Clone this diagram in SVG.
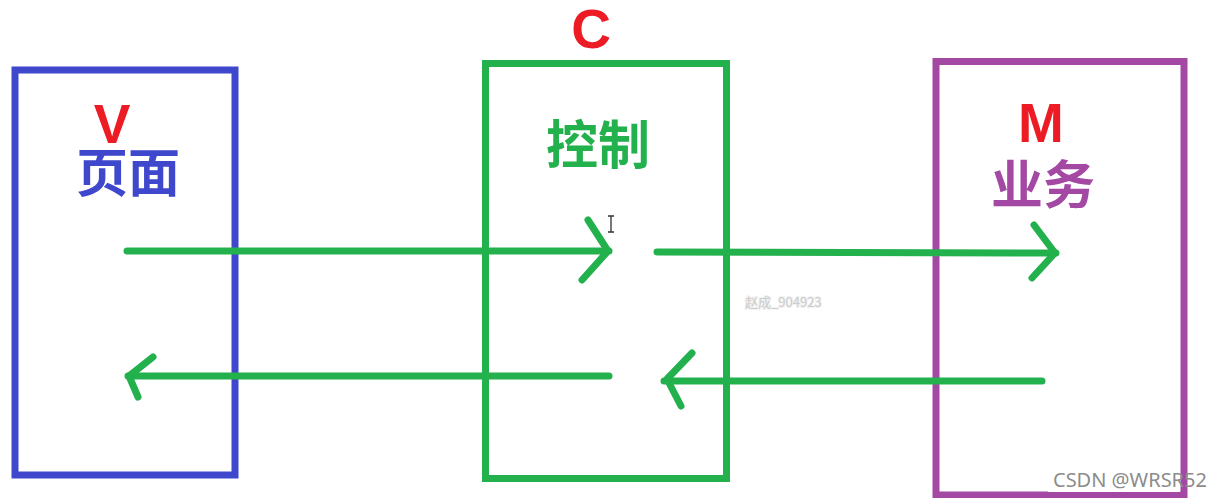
<svg xmlns="http://www.w3.org/2000/svg" width="1215" height="498" viewBox="0 0 1215 498">
<style>
.box{fill:none;stroke-width:7}
.ltr{font-family:"Liberation Sans",Arial,sans-serif;font-weight:bold;font-size:55px;fill:#ED1C24;text-anchor:middle}
.cjk{font-family:"Noto Sans CJK SC","Noto Sans",sans-serif;font-weight:bold;font-size:52px;text-anchor:middle}
.ln{fill:none;stroke:#22B14C;stroke-width:7;stroke-linecap:round;stroke-linejoin:round}
.wm{font-family:"Noto Sans CJK SC","Noto Sans",sans-serif;font-size:13px;fill:#cccccc;stroke:#f2f2f2;stroke-width:2;paint-order:stroke}
.csdn{font-family:"Noto Sans","Liberation Sans",sans-serif;font-size:20px;fill:#8c8c8c}
</style>
<rect width="1215" height="498" fill="#ffffff"/>
<g id="node-v">
<rect class="box" x="15" y="70" width="220" height="405" stroke="#3F48CC"/>
<text class="ltr" x="112" y="143">V</text>
<text class="cjk" x="128" y="192" fill="#3F48CC">页面</text>
</g>
<g id="node-c">
<rect class="box" x="485.5" y="63.5" width="241" height="415" stroke="#22B14C"/>
<text class="ltr" x="591" y="48" font-size="53">C</text>
<text class="cjk" x="598" y="164" fill="#22B14C">控制</text>
</g>
<g id="node-m">
<rect class="box" x="936" y="61.5" width="248" height="433.5" stroke="#A349A4"/>
<text class="ltr" x="1041" y="142">M</text>
<text class="cjk" x="1043" y="204" fill="#A349A4">业务</text>
</g>
<g id="connectors">
<path class="ln" d="M127 251 L609 251"/>
<path class="ln" d="M588 220 L608 251 L582 280"/>
<path class="ln" d="M657 252 L1056 253"/>
<path class="ln" d="M1034 225 L1055 253 L1032 278"/>
<path class="ln" d="M1042 381 L664 381"/>
<path class="ln" d="M692 353 L667 379 L681 406"/>
<path class="ln" d="M609 376 L128 376"/>
<path class="ln" d="M153 357 L129 376 L138 397"/>
</g>
<path d="M608 216 L614 216 M611 216 L611 232 M608 232 L614 232" stroke="#333" stroke-width="1.3" fill="none"/>
<text class="wm" x="745" y="307">赵成_904923</text>
<rect x="1048" y="466" width="132" height="26" fill="#ffffff"/>
<text class="csdn" x="1053" y="487">CSDN @WRSR52</text>
</svg>
